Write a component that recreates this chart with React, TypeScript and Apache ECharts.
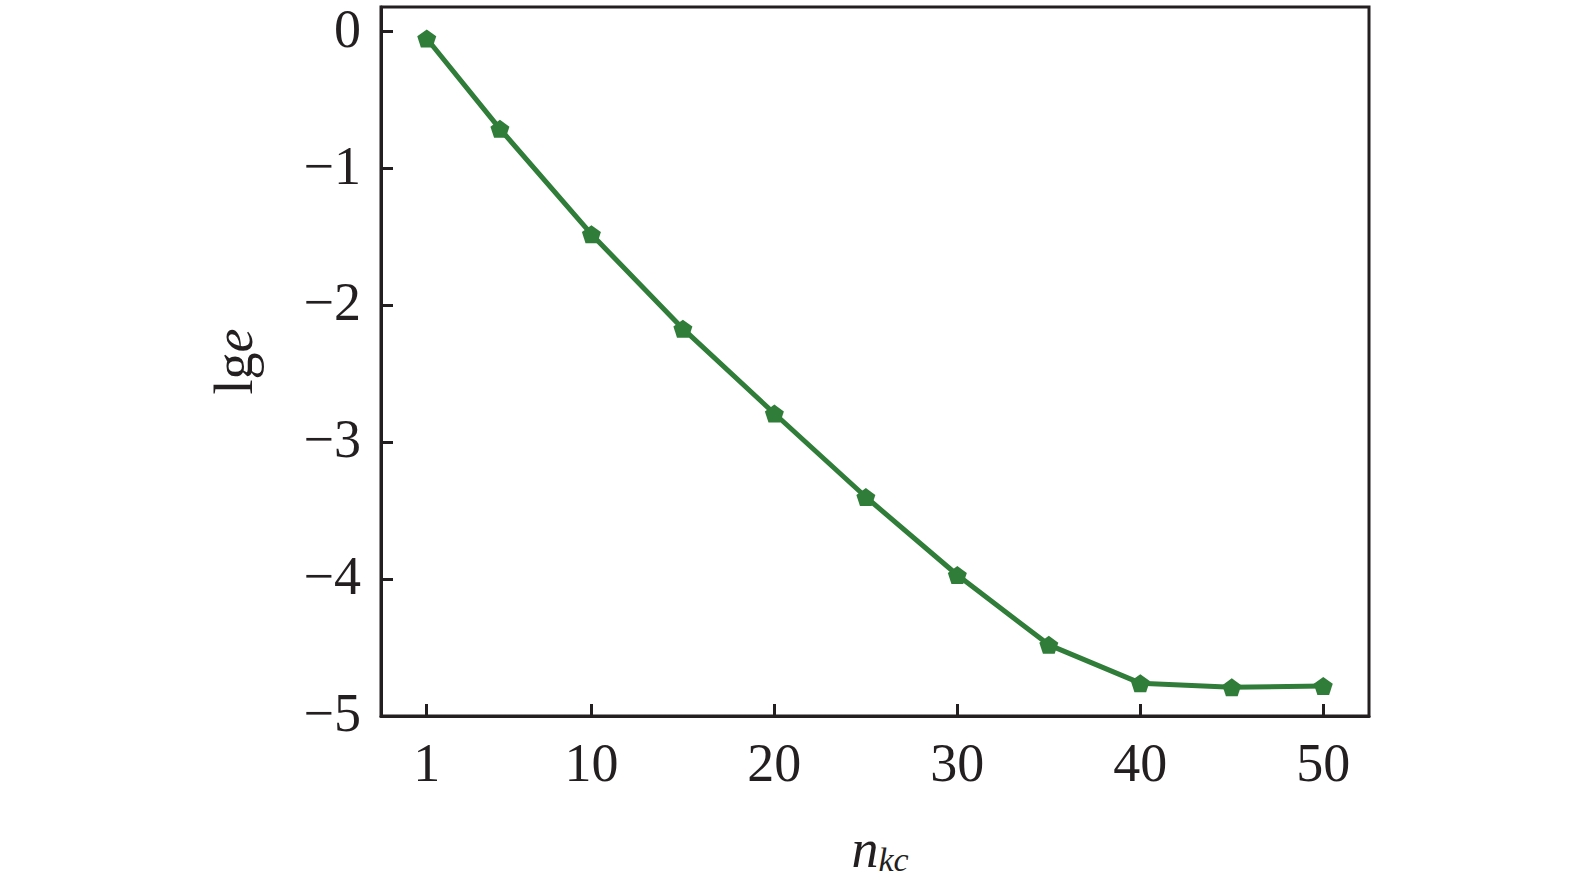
import React, { useEffect, useRef } from "react";
import * as echarts from "echarts";

const xValues = [1, 5, 10, 15, 20, 25, 30, 35, 40, 45, 50];
const lgeValues = [-0.05, -0.71, -1.48, -2.17, -2.79, -3.4, -3.97, -4.48, -4.76, -4.79, -4.78];
const xTicks = [1, 10, 20, 30, 40, 50];
const yTicks = [0, -1, -2, -3, -4, -5];

const FONT = "Liberation Serif";
const INK = "#231f20";
const GREEN = "#2f7d38";
const PENTAGON =
  "path://M0,-1 L0.951,-0.309 L0.588,0.809 L-0.588,0.809 L-0.951,-0.309 Z";

export default function App() {
  const ref = useRef<HTMLDivElement>(null);
  useEffect(() => {
    if (!ref.current) return;
    const chart = echarts.init(ref.current, null, { renderer: "svg" });
    chart.setOption({
      animation: false,
      backgroundColor: "#ffffff",
      grid: {
        left: 381,
        top: 7,
        right: 206,
        bottom: 180,
        show: true,
        borderColor: INK,
        borderWidth: 3,
        backgroundColor: "transparent",
      },
      xAxis: {
        type: "value",
        min: -1.5,
        max: 52.5,
        splitLine: { show: false },
        axisLine: { show: true, onZero: false, lineStyle: { color: INK, width: 3 } },
        axisTick: {
          show: true,
          inside: true,
          length: 12,
          customValues: xTicks,
          lineStyle: { color: INK, width: 3 },
        },
        axisLabel: {
          customValues: xTicks,
          fontFamily: FONT,
          fontSize: 54,
          color: INK,
          margin: 20,
        },
        name: "{n|n}{s|kc}",
        nameLocation: "middle",
        nameGap: 100,
        nameTextStyle: {
          fontFamily: FONT,
          color: INK,
          padding: [0, 0, 0, 10],
          rich: {
            n: {
              fontFamily: FONT,
              fontStyle: "italic",
              fontSize: 54,
              lineHeight: 60,
              verticalAlign: "bottom",
              color: INK,
            },
            s: {
              fontFamily: FONT,
              fontStyle: "italic",
              fontSize: 34,
              lineHeight: 22,
              verticalAlign: "bottom",
              color: INK,
            },
          },
        },
      },
      yAxis: {
        type: "value",
        min: -5,
        max: 0.18,
        splitLine: { show: false },
        axisLine: { show: true, onZero: false, lineStyle: { color: INK, width: 3 } },
        axisTick: {
          show: true,
          inside: true,
          length: 12,
          customValues: yTicks,
          lineStyle: { color: INK, width: 3 },
        },
        axisLabel: {
          customValues: yTicks,
          fontFamily: FONT,
          fontSize: 54,
          color: INK,
          margin: 20,
          formatter: (v: number) =>
            "{v|" + (v < 0 ? "\u2212" + Math.abs(v) : String(v)) + "}",
          rich: {
            v: {
              fontFamily: FONT,
              fontSize: 54,
              lineHeight: 48,
              color: INK,
              padding: [0, 0, 6, 0],
            },
          },
        },
        name: "{a|lg}{b|e}",
        nameLocation: "middle",
        nameRotate: 90,
        nameGap: 120,
        nameTextStyle: {
          fontFamily: FONT,
          color: INK,
          rich: {
            a: { fontFamily: FONT, fontSize: 54, color: INK },
            b: { fontFamily: FONT, fontStyle: "italic", fontSize: 54, color: INK },
          },
        },
      },
      series: [
        {
          type: "line",
          data: xValues.map((x, i) => [x, lgeValues[i]]),
          lineStyle: { color: GREEN, width: 5 },
          itemStyle: { color: GREEN },
          symbol: PENTAGON,
          symbolSize: [19, 18],
          showSymbol: true,
        },
      ],
    });
    return () => chart.dispose();
  }, []);
  return (
    <div
      ref={ref}
      style={{ position: "fixed", left: 0, top: 0, width: 1575, height: 896, background: "#fff" }}
    />
  );
}
